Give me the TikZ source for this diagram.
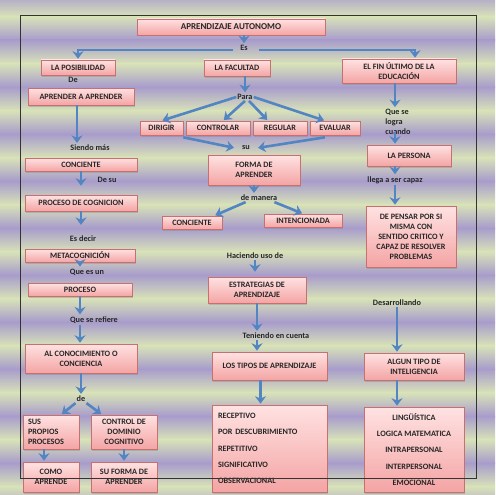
\documentclass[tikz,border=0pt]{standalone}
\usepackage{fontspec}
\setmainfont{Carlito}
\usetikzlibrary{arrows.meta,shadows}

\definecolor{bandPurple}{RGB}{168,156,204}
\definecolor{bandGreen}{RGB}{216,226,184}
\definecolor{boxTop}{RGB}{255,226,226}
\definecolor{boxBottom}{RGB}{244,164,164}
\definecolor{boxLine}{RGB}{200,112,112}
\definecolor{arrowBlue}{RGB}{82,133,194}

\tikzset{
  caja/.style={shade, top color=boxTop, bottom color=boxBottom, draw=boxLine, line width=0.6pt,
    drop shadow={shadow xshift=1.2pt, shadow yshift=-1.5pt, opacity=0.35},
    font=\bfseries\fontsize{8.2}{10}\selectfont, text=black!85, align=center, inner sep=2pt},
  etiqueta/.style={font=\bfseries\fontsize{8.2}{10}\selectfont, text=black!85, inner sep=1pt},
  flecha/.style={draw=arrowBlue, line width=2.6pt, shorten >=1pt, -{Stealth[length=7.5pt,width=11pt]}},
}

\begin{document}
\begin{tikzpicture}[x=1pt,y=-1pt]
\useasboundingbox (0,0) rectangle (495,495);
\clip (0,0) rectangle (495,495);
\foreach \k in {-1,...,10} {
  \pgfmathsetmacro\ya{40+47*\k}
  \shade[top color=bandPurple, bottom color=bandGreen] (0,\ya) rectangle (495,\ya+23.6);
  \shade[top color=bandGreen, bottom color=bandPurple] (0,\ya+23.5) rectangle (495,\ya+47.1);
}

\node[caja, minimum width=188pt, minimum height=16pt, font=\bfseries\fontsize{9}{10}\selectfont] (apr) at (231,27) {APRENDIZAJE AUTONOMO};
\node[etiqueta] (es) at (244,48) {Es};
\node[caja, minimum width=74pt, minimum height=15pt] (posib) at (78,67.5) {LA POSIBILIDAD};
\node[caja, minimum width=66pt, minimum height=16pt] (facul) at (237,68) {LA FACULTAD};
\node[caja, minimum width=114pt, minimum height=24pt] (fin) at (399,71) {EL FIN ÚLTIMO DE LA\\EDUCACIÓN};
\node[etiqueta] (de) at (73,80) {De};
\node[caja, minimum width=106pt, minimum height=17pt] (aprender) at (81,96.5) {APRENDER A APRENDER};
\node[etiqueta] (para) at (245,97) {Para};
\foreach \n/\cx/\w/\t in {dirigir/161.5/43pt/DIRIGIR, controlar/218/64pt/CONTROLAR, regular/280/54pt/REGULAR, evaluar/335/50pt/EVALUAR}
  \node[caja, minimum width=\w, minimum height=14pt] (\n) at (\cx,128) {\t};
\node[etiqueta] (su) at (246,148) {su};
\node[caja, minimum width=92pt, minimum height=30pt] (forma) at (254,170) {FORMA DE\\APRENDER};
\node[etiqueta] (manera) at (259,198) {de manera};
\node[caja, minimum width=60pt, minimum height=13pt] (conc2) at (192,222.5) {CONCIENTE};
\node[caja, minimum width=78pt, minimum height=13pt] (intenc) at (303,220.5) {INTENCIONADA};

\node[etiqueta] (siendo) at (90,148) {Siendo más};
\node[caja, minimum width=112pt, minimum height=13pt] (conc1) at (81,164.5) {CONCIENTE};
\node[etiqueta] (desu) at (107,180) {De su};
\node[caja, minimum width=112pt, minimum height=16pt] (cogni) at (81,203) {PROCESO DE COGNICION};
\node[etiqueta] (esdecir) at (83,239) {Es decir};
\node[caja, minimum width=110pt, minimum height=13pt] (meta) at (80,255.5) {METACOGNICIÓN};
\node[etiqueta] (quees) at (87,272) {Que es un};
\node[caja, minimum width=104pt, minimum height=13pt] (proceso) at (80,289.5) {PROCESO};
\node[etiqueta] (refiere) at (94,320) {Que se refiere};
\node[caja, minimum width=112pt, minimum height=29pt] (conoc) at (81,358.5) {AL CONOCIMIENTO O\\CONCIENCIA};
\node[etiqueta] (de2) at (81,399) {de};
\node[caja, minimum width=56pt, minimum height=34pt, text width=46pt, align=left] (propios) at (51,432) {SUS\\PROPIOS\\PROCESOS};
\node[caja, minimum width=66pt, minimum height=34pt] (control) at (124,432) {CONTROL DE\\DOMINIO\\COGNITIVO};
\node[caja, minimum width=56pt, minimum height=30pt] (como) at (51,477) {COMO\\APRENDE};
\node[caja, minimum width=66pt, minimum height=30pt] (suforma) at (124,477) {SU FORMA DE\\APRENDER};

\node[etiqueta] (haciendo) at (255,256) {Haciendo uso de};
\node[caja, minimum width=98pt, minimum height=26pt] (estrat) at (257,290) {ESTRATEGIAS DE\\APRENDIZAJE};
\node[etiqueta] (teniendo) at (276,336) {Teniendo en cuenta};
\node[caja, minimum width=115pt, minimum height=28pt] (tipos) at (269.5,366) {LOS TIPOS DE APRENDIZAJE};
\node[caja, minimum width=115pt, minimum height=87pt, text width=103pt, align=left, font=\bfseries\fontsize{8.2}{16.2}\selectfont] (tiposlista) at (269.5,448.5)
  {RECEPTIVO\\POR DESCUBRIMIENTO\\REPETITIVO\\SIGNIFICATIVO\\OBSERVACIONAL};

\node[etiqueta, align=left] (logra) at (398,122) {Que se\\logra\\cuando};
\node[caja, minimum width=84pt, minimum height=21pt] (persona) at (409,155.5) {LA PERSONA};
\node[etiqueta] (llega) at (395,180) {llega a ser capaz};
\node[caja, minimum width=90pt, minimum height=61pt] (pensar) at (411,236.5) {DE PENSAR POR SI\\MISMA CON\\SENTIDO CRITICO Y\\CAPAZ DE RESOLVER\\PROBLEMAS};
\node[etiqueta] (desarr) at (397,303) {Desarrollando};
\node[caja, minimum width=100pt, minimum height=27pt] (algun) at (414,366.5) {ALGUN TIPO DE\\INTELIGENCIA};
\node[caja, minimum width=100pt, minimum height=85pt, font=\bfseries\fontsize{8.2}{16.2}\selectfont] (intelig) at (414,449.5)
  {LINGÜÍSTICA\\LOGICA MATEMATICA\\INTRAPERSONAL\\INTERPERSONAL\\EMOCIONAL};

\draw[flecha] (apr.south -| es) -- (es.north);
\draw[flecha] ([xshift=-6pt,yshift=-2pt]es.west) -| (posib.north);
\draw[flecha] ([xshift=10pt,yshift=-2pt]es.east) -| ([xshift=16pt]fin.north);
\draw[flecha] (facul.south -| para) -- (para.north);
\draw[flecha] (para.west) -- (dirigir.north);
\draw[flecha] (para.south) -- ([xshift=5pt]controlar.north);
\draw[flecha] ([xshift=4pt]para.south) -- ([xshift=-12pt]regular.north);
\draw[flecha] (para.east) -- ([xshift=-10pt]evaluar.north);
\draw[flecha] ([yshift=-2pt]dirigir.south east) -- ([xshift=-6pt]su.west);
\draw[flecha] ([xshift=-10pt,yshift=-2pt]evaluar.south) -- ([xshift=6pt]su.east);
\draw[flecha] (forma.south) -- (forma.south |- manera.north);
\draw[flecha] ([xshift=6pt]manera.south west) -- ([xshift=-8pt]conc2.north east);
\draw[flecha] ([xshift=-4pt]manera.south east) -- (intenc.north);

\draw[flecha] ([xshift=-4pt]aprender.south) -- ([xshift=-4pt]aprender.south |- siendo.north);
\draw[flecha, shorten >=9pt] (conc1.south) -- (cogni.north);
\draw[flecha, shorten >=10pt] (cogni.south) -- (cogni.south |- esdecir.north);
\draw[flecha] (meta.south) -- (meta.south |- quees.north);
\draw[flecha] (proceso.south) -- (proceso.south |- refiere.north);
\draw[flecha] (proceso.south |- refiere.south) -- (proceso.south |- conoc.north);
\draw[flecha] (conoc.south -| de2) -- (de2.north);
\draw[flecha] (de2.south west) -- ([xshift=10pt]propios.north);
\draw[flecha] (de2.south east) -- ([xshift=-22pt]control.north);
\draw[flecha] ([xshift=-7pt]propios.south) -- ([xshift=-7pt]como.north);
\draw[flecha] (control.south) -- (suforma.north);

\draw[flecha, shorten >=5pt] (haciendo.south) -- (haciendo.south |- estrat.north);
\draw[flecha] (estrat.south) -- (estrat.south |- teniendo.north);
\draw[flecha] (teniendo.south -| estrat) -- (estrat |- tipos.north);
\draw[flecha] ([xshift=-9pt]tipos.south) -- ([xshift=-9pt]tiposlista.north);

\draw[flecha] (fin.south -| llega) -- (llega |- logra.north);
\draw[flecha, shorten <=-4pt] (llega |- logra.south) -- (llega |- persona.north);
\draw[flecha] (persona.south -| llega) -- (llega.north);
\draw[flecha] (llega.south) -- (llega.south |- pensar.north);
\draw[flecha] (desarr.south) -- (desarr.south |- algun.north);
\draw[flecha] (algun.south -| desarr) -- (desarr |- intelig.north);

\draw[black!80, line width=0.8pt] (20,15) rectangle (476,478);
\end{tikzpicture}
\end{document}
